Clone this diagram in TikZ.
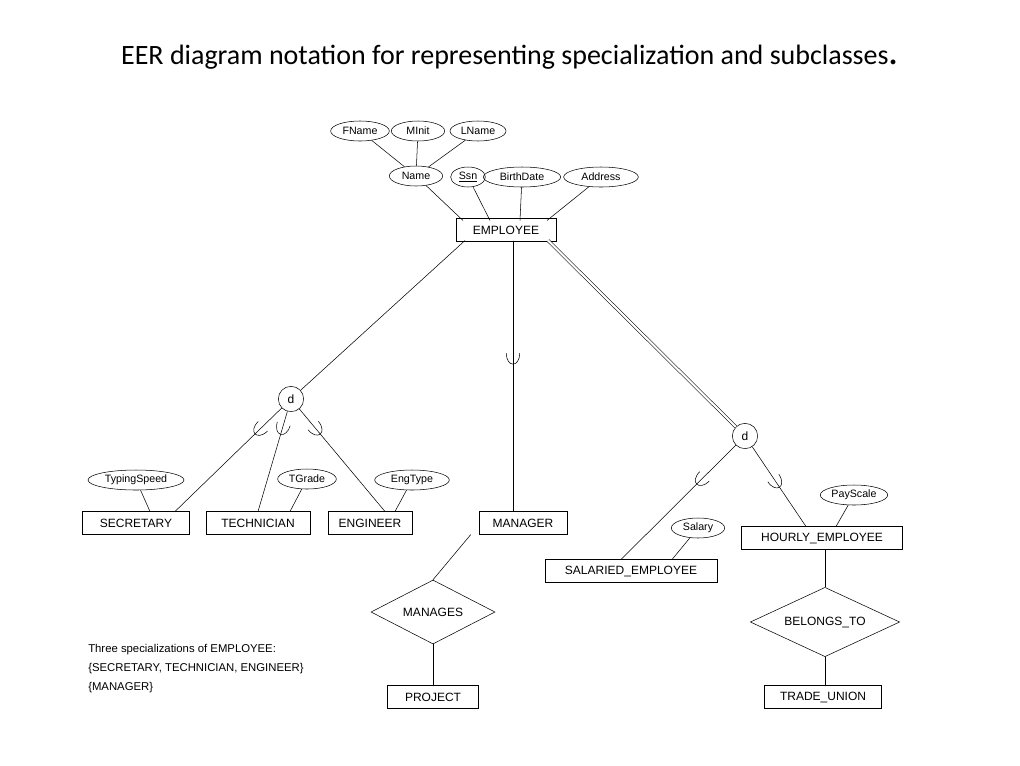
\documentclass[tikz,border=0pt]{standalone}
\usepackage{fontspec}
\setmainfont{Liberation Sans}
\newfontfamily\titlefont{Carlito}
\usetikzlibrary{shapes.geometric,calc}
\begin{document}
\begin{tikzpicture}[x=0.75pt,y=-0.75pt,
  ent/.style={draw,thin,rectangle,minimum height=17pt,inner xsep=8pt,font=\fontsize{9}{10}\selectfont},
  att/.style={draw,thin,ellipse,minimum height=15pt,inner xsep=1pt,inner ysep=0pt,font=\fontsize{8}{9}\selectfont},
  rel/.style={draw,thin,diamond,aspect=1.9,inner sep=1pt,font=\fontsize{9}{10}\selectfont},
  dc/.style={draw,thin,circle,minimum size=19pt,inner sep=0pt,font=\fontsize{9}{10}\selectfont},
  ln/.style={draw,thin}]
\useasboundingbox (0,0) rectangle (1020,765);
\newcommand\subsym[3]{%
  \path ($(#1)!#3!(#2)$) coordinate (Pq);
  \path ($(Pq)!7pt!(#1)$) coordinate (Bq) ($(Pq)!4pt!(#2)$) coordinate (Fq);
  \draw[thin] ($(Bq)!5pt!90:(#1)$) .. controls ($(Fq)!5pt!90:(#1)$) and ($(Fq)!5pt!-90:(#1)$) .. ($(Bq)!5pt!-90:(#1)$);}
\node[font=\titlefont\fontsize{21}{24}\selectfont] (title) at (510,57) {EER diagram notation for representing specialization and subclasses{\fontsize{30}{30}\selectfont.}};
% attributes
\node[att,minimum width=44pt] (fn) at (360,131) {FName};
\node[att,minimum width=40pt] (mi) at (418,131) {MInit};
\node[att,minimum width=42pt] (lna) at (478,131) {LName};
\node[att,minimum width=40pt] (nm) at (416,176) {Name};
\node[att,minimum width=26pt] (ssn) at (468,177) {\underline{Ssn}};
\node[att,minimum width=58pt] (bd) at (522,177) {BirthDate};
\node[att,minimum width=56pt] (ad) at (601,177) {Address};
\node[ent,minimum width=75pt] (emp) at (506,230) {EMPLOYEE};
\draw (fn) -- (nm); \draw (mi) -- (nm); \draw (lna) -- (nm);
\draw (nm) -- (463,220.5); \draw (ssn) -- (490,220.5); \draw (bd) -- (520,220.5); \draw (ad) -- (547,220.5);
% circles
\node[dc] (d1) at (291,399) {d};
\node[dc] (d2) at (745,436) {d};
\coordinate (e1) at (465,240.5);
\coordinate (e2) at (513,240.5);
\coordinate (e3) at (548,240.5);
\draw (e1) -- (d1);
\draw[double distance=1.6pt,thin] (e3) -- (d2);
% left subclasses
\node[ent,minimum width=80pt] (sec) at (136,523) {SECRETARY};
\node[ent,minimum width=78pt] (tec) at (258,523) {TECHNICIAN};
\node[ent,minimum width=58pt] (eng) at (370,523) {ENGINEER};
\node[ent,minimum width=66pt] (man) at (523,523) {MANAGER};
\coordinate (sT) at (175,511.5); \coordinate (tT) at (258,511.5); \coordinate (gT) at (385,511.5);
\draw (d1) -- (sT); \draw (d1) -- (tT); \draw (d1) -- (gT);
\subsym{d1}{sT}{0.3}\subsym{d1}{tT}{0.3}\subsym{d1}{gT}{0.3}
\coordinate (mT) at (513,511.5);
\draw (e2) -- (mT);
\subsym{e2}{mT}{0.45}
\node[att,minimum width=72pt] (ts) at (136,480) {TypingSpeed};
\node[att,minimum width=44pt] (tg) at (307,479) {TGrade};
\node[att,minimum width=56pt] (et) at (412,480) {EngType};
\draw (ts) -- (150,511.5); \draw (tg) -- (290,511.5); \draw (et) -- (395,511.5);
% right subclasses
\node[ent,minimum width=129pt] (sal) at (631,571) {SALARIED\_EMPLOYEE};
\node[ent,minimum width=121pt] (hou) at (822,538) {HOURLY\_EMPLOYEE};
\coordinate (saT) at (621,559.5); \coordinate (hoT) at (806,526.5);
\draw (d2) -- (saT); \draw (d2) -- (hoT);
\subsym{d2}{saT}{0.38}\subsym{d2}{hoT}{0.55}
\node[att,minimum width=40pt] (sl) at (698,528) {Salary};
\node[att,minimum width=50pt] (ps) at (854,495) {PayScale};
\draw (sl) -- (672,559.5); \draw (ps) -- (836,526.5);
% relationships
\node[rel,minimum width=93pt,minimum height=48pt] (mg) at (433,612) {MANAGES};
\node[ent,minimum width=68pt] (pr) at (433,697) {PROJECT};
\draw (man.south west) ++(-8,0) coordinate (mS) (mS) -- (mg.north);
\draw (mg) -- (pr);
\node[rel,minimum width=112pt,minimum height=52pt] (bt) at (825,622) {BELONGS\_TO};
\node[ent,minimum width=88pt] (tu) at (823,697) {TRADE\_UNION};
\draw (hou.south -| bt.north) -- (bt.north);
\draw (bt) -- (tu.north -| bt.south);
% note
\node[anchor=north west,align=left,inner sep=0pt,font=\fontsize{8.5}{14.2}\selectfont] (note) at (88,644) {Three specializations of EMPLOYEE:\\\{SECRETARY, TECHNICIAN, ENGINEER\}\\\{MANAGER\}};
\end{tikzpicture}
\end{document}
